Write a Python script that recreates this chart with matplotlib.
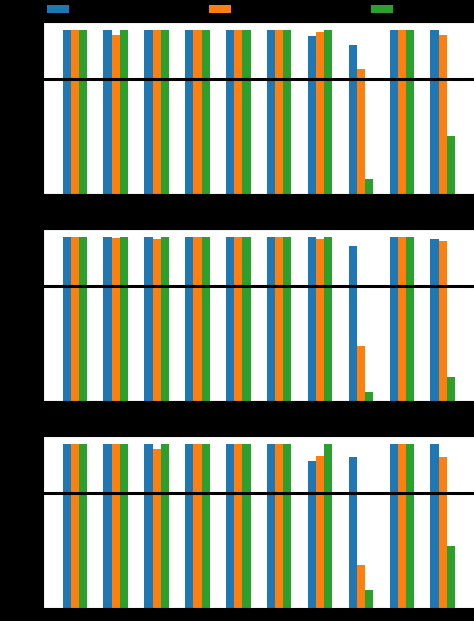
import numpy as np
import matplotlib
matplotlib.use("Agg")
import matplotlib.pyplot as plt

# ten cases, three series, three panels
cases = ["1", "2", "3", "4", "5", "6", "7", "8", "9", "10"]
series = ["Series 1", "Series 2", "Series 3"]

top_blue = [1.0, 1.0, 1.0, 1.0, 1.0, 1.0, 0.965, 0.910, 1.0, 1.0]
top_orange = [1.0, 0.971, 1.0, 1.0, 1.0, 1.0, 0.991, 0.764, 1.0, 0.971]
top_green = [1.0, 1.0, 1.0, 1.0, 1.0, 1.0, 1.0, 0.091, 1.0, 0.357]

mid_blue = [1.0, 1.0, 1.0, 1.0, 1.0, 1.0, 1.0, 0.948, 1.0, 0.989]
mid_orange = [1.0, 0.993, 0.989, 1.0, 1.0, 1.0, 0.991, 0.340, 1.0, 0.975]
mid_green = [1.0, 1.0, 1.0, 1.0, 1.0, 1.0, 1.0, 0.055, 1.0, 0.146]

bot_blue = [1.0, 1.0, 1.0, 1.0, 1.0, 1.0, 0.898, 0.920, 1.0, 1.0]
bot_orange = [1.0, 1.0, 0.971, 1.0, 1.0, 1.0, 0.928, 0.262, 1.0, 0.924]
bot_green = [1.0, 1.0, 1.0, 1.0, 1.0, 1.0, 1.0, 0.110, 1.0, 0.382]

threshold = 0.7

panels = [
    (top_blue, top_orange, top_green),
    (mid_blue, mid_orange, mid_green),
    (bot_blue, bot_orange, bot_green),
]
colors = ["#1f77b4", "#ff7f0e", "#2ca02c"]

W, H = 474, 621
fig = plt.figure(figsize=(W / 100, H / 100), dpi=100)
fig.patch.set_facecolor("black")

x = np.arange(len(cases))
width = 0.2
tops = [22, 229, 436]
axh = 172.3

bars = None
for k, (vals, top) in enumerate(zip(panels, tops)):
    ax = fig.add_axes([43 / W, 1 - (top + axh) / H, 431.5 / W, axh / H])
    ax.set_facecolor("white")
    bars = []
    for i, v in enumerate(vals):
        b = ax.bar(x + (i - 1) * width, v, width, color=colors[i], label=series[i])
        bars.append(b)
    ax.axhline(threshold, color="black", lw=2.2)
    ax.set_ylim(0, 1.05)
    ax.set_xticks(x)
    ax.set_xticklabels([])
    ax.tick_params(labelsize=8, colors="black")
    for s in ax.spines.values():
        s.set_color("black")

fig.legend(bars, series, ncol=3, loc="center left",
           bbox_to_anchor=(42.6 / W, 1 - 9.5 / H), frameon=False,
           fontsize=7.9, borderpad=0.4, columnspacing=7.9,
           handletextpad=0.8, borderaxespad=0)

fig.savefig("out.png", dpi=100, facecolor="black")
